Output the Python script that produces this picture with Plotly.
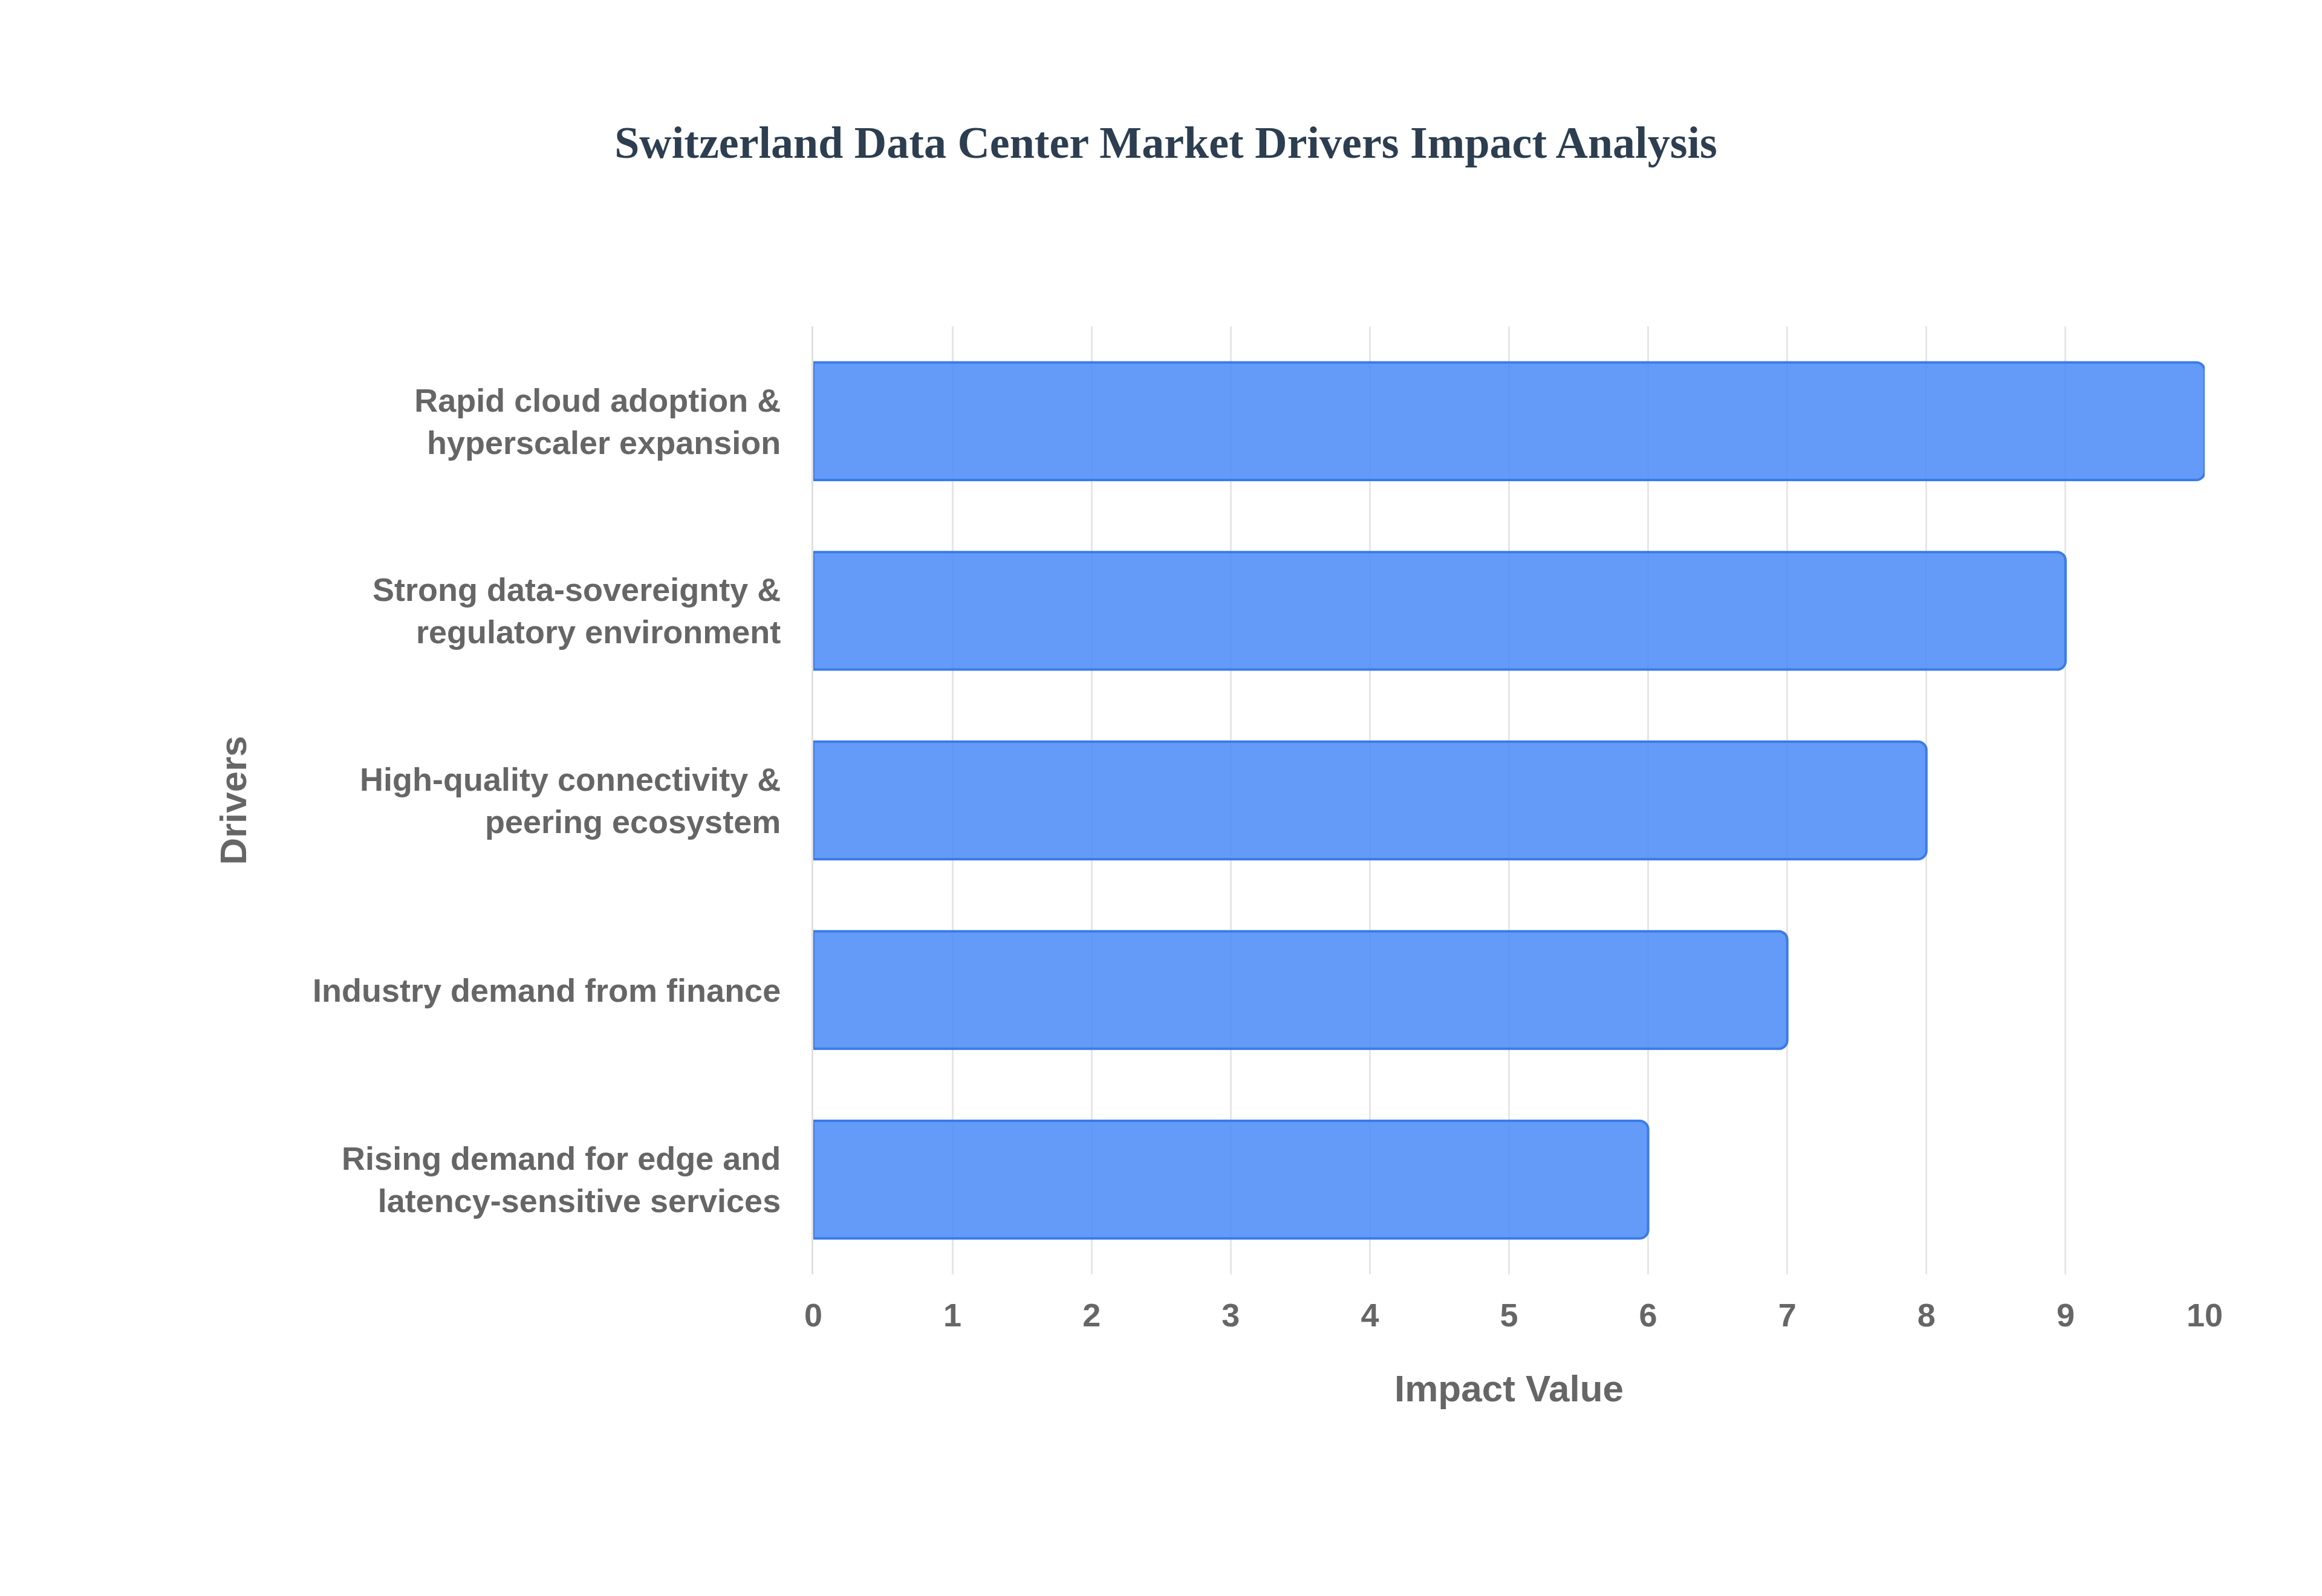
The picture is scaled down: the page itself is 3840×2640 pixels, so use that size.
import plotly.graph_objects as go

drivers = [
    "Rising demand for edge and<br>latency-sensitive services",
    "Industry demand from finance",
    "High-quality connectivity &<br>peering ecosystem",
    "Strong data-sovereignty &<br>regulatory environment",
    "Rapid cloud adoption &<br>hyperscaler expansion",
]
impact = [6, 7, 8, 9, 10]

fig = go.Figure(go.Bar(
    x=impact, y=drivers, orientation="h",
    marker=dict(color="rgba(79,141,247,0.88)", line=dict(color="#3b7be8", width=4)),
    width=0.62,
))

fig.update_layout(
    width=3840, height=2640,
    paper_bgcolor="white", plot_bgcolor="white",
    margin=dict(l=1337, r=202, t=532, b=540),
    barcornerradius=14,
    title=dict(text="<b>Switzerland Data Center Market Drivers Impact Analysis</b>",
               x=0.5, xanchor="center", y=0.914, yanchor="middle",
               font=dict(family="Liberation Serif", size=74, color="#2c3e50")),
    font=dict(family="Liberation Sans", color="#666666"),
    showlegend=False,
)
fig.update_xaxes(
    range=[0, 10], dtick=1, showgrid=True, gridcolor="#e6e6e6", gridwidth=3,
    zeroline=False, showline=False, ticks="outside", ticklen=20, tickcolor="white",
    tickfont=dict(size=54, family="Liberation Sans", color="#666666"),
    title=dict(text="<b>Impact Value</b>", font=dict(size=62, color="#666666"), standoff=70),
    tickprefix="<b>", ticksuffix="</b>",
)
fig.update_yaxes(
    showgrid=False, showline=True, linecolor="#e0e0e0", linewidth=3,
    ticks="outside", ticklen=40, tickcolor="white",
    tickfont=dict(size=54, family="Liberation Sans", color="#666666"),
    tickprefix="<b>", ticksuffix="</b>",
    title=dict(text="<b>Drivers</b>", font=dict(size=62, color="#666666"), standoff=90),
)

fig.write_html("out.html")
